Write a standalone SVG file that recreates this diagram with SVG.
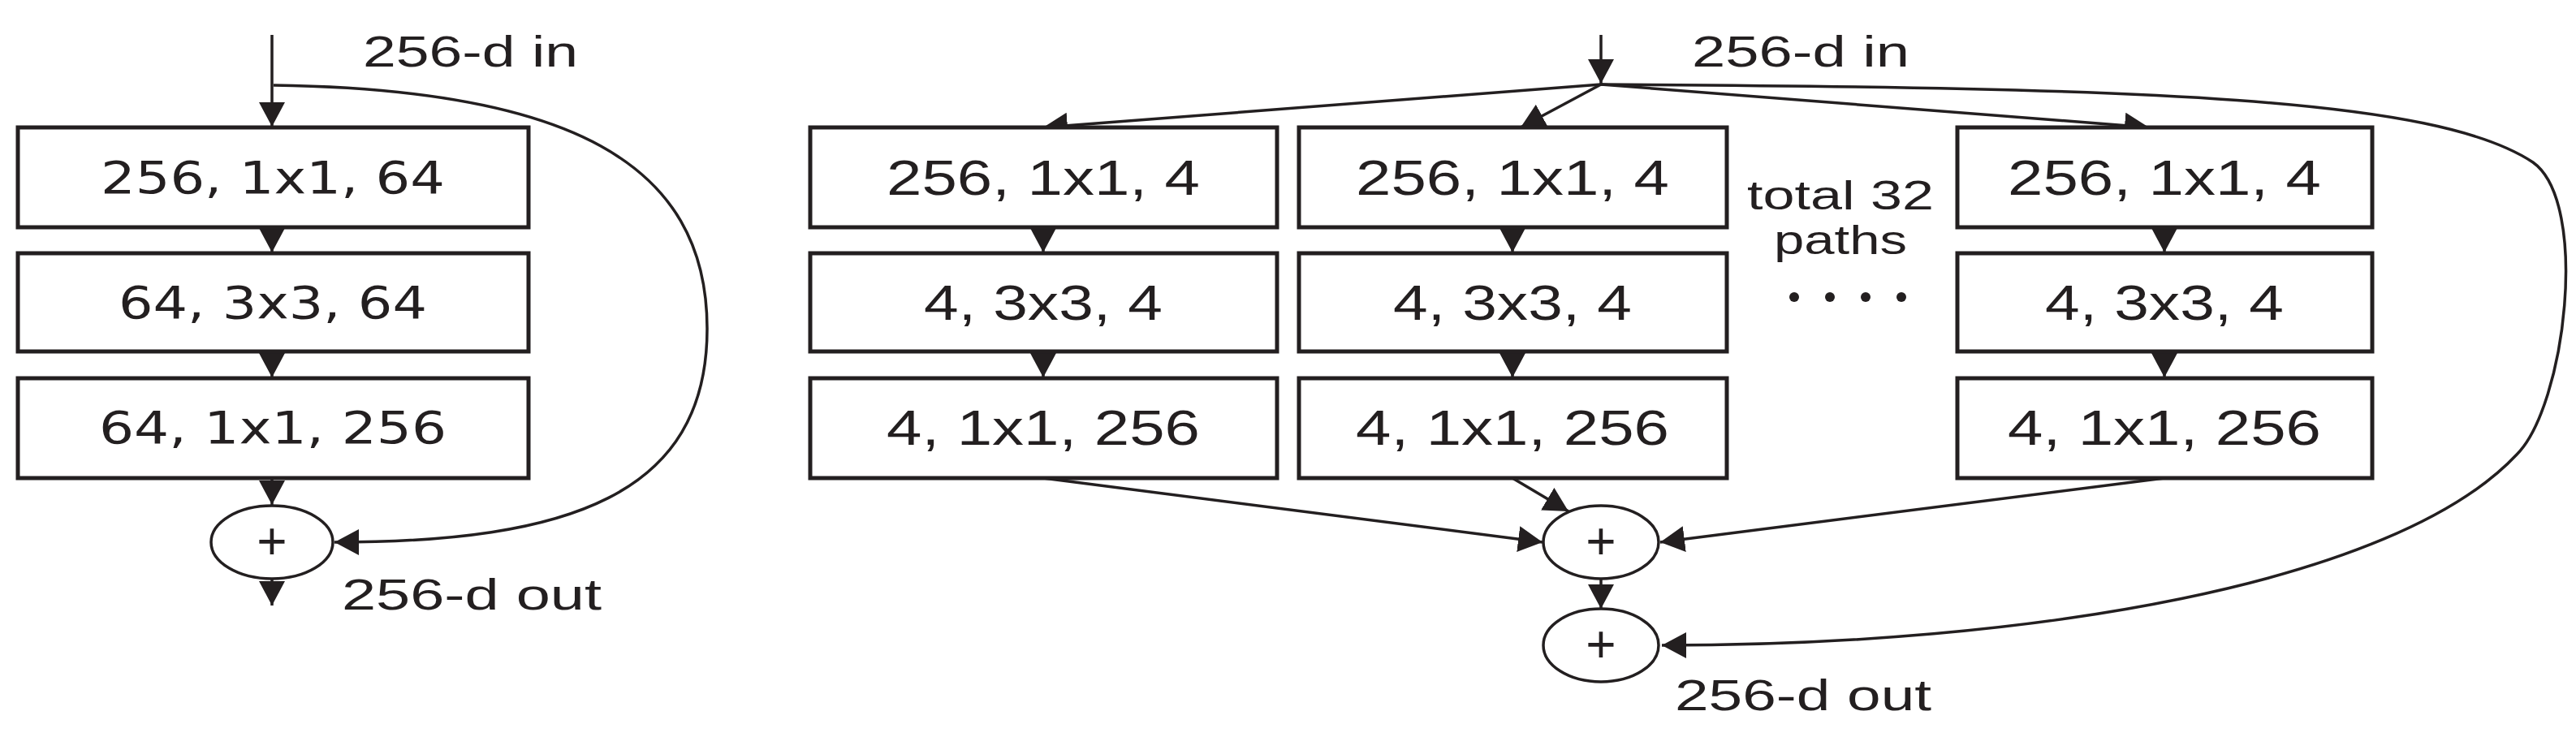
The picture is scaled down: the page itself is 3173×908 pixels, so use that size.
<svg xmlns="http://www.w3.org/2000/svg" width="3173" height="908" viewBox="0 0 3173 908">
<style>
.b{fill:#fff;stroke:#231f20;stroke-width:5}
.c{fill:none;stroke:#231f20;stroke-width:3.5}
.tl{font-family:"DejaVu Sans",sans-serif;font-size:56px;fill:#231f20;text-anchor:middle}
.tr{font-family:"Liberation Sans",sans-serif;font-size:62px;fill:#231f20;text-anchor:middle}
.p{font-family:"Liberation Sans",sans-serif;font-size:64px;fill:#231f20;text-anchor:middle}
.lab{font-family:"Liberation Sans",sans-serif;font-size:54px;fill:#231f20}
</style>
<defs>
<marker id="A" viewBox="0 0 10 10" refX="10" refY="5" markerWidth="30" markerHeight="32" markerUnits="userSpaceOnUse" orient="auto" preserveAspectRatio="none">
<path d="M0,0 L10,5 L0,10 z" fill="#231f20"/>
</marker>
</defs>
<g id="edges">
<line class="c" x1="335" y1="43" x2="335" y2="156" marker-end="url(#A)"/>
<line class="c" x1="335" y1="280" x2="335" y2="311" marker-end="url(#A)"/>
<line class="c" x1="335" y1="433" x2="335" y2="465" marker-end="url(#A)"/>
<line class="c" x1="335" y1="589" x2="335" y2="622" marker-end="url(#A)"/>
<line class="c" x1="335" y1="713" x2="335" y2="746" marker-end="url(#A)"/>
<path class="c" d="M337,105 C700,110 871,200 871,405 C871,610 700,668 412,668" marker-end="url(#A)"/>
<line class="c" x1="1972" y1="43" x2="1972" y2="103" marker-end="url(#A)"/>
<line class="c" x1="1972" y1="104" x2="1285" y2="157" marker-end="url(#A)"/>
<line class="c" x1="1972" y1="104" x2="1873" y2="157" marker-end="url(#A)"/>
<line class="c" x1="1972" y1="104" x2="2647" y2="157" marker-end="url(#A)"/>
<path class="c" d="M1972,104 C2650,108 3000,120 3120,200 C3190,250 3160,500 3100,560 C2950,720 2500,795 2047,795" marker-end="url(#A)"/>
<line class="c" x1="1285" y1="280" x2="1285" y2="311" marker-end="url(#A)"/>
<line class="c" x1="1285" y1="433" x2="1285" y2="465" marker-end="url(#A)"/>
<line class="c" x1="1863" y1="280" x2="1863" y2="311" marker-end="url(#A)"/>
<line class="c" x1="1863" y1="433" x2="1863" y2="465" marker-end="url(#A)"/>
<line class="c" x1="2666" y1="280" x2="2666" y2="311" marker-end="url(#A)"/>
<line class="c" x1="2666" y1="433" x2="2666" y2="465" marker-end="url(#A)"/>
<line class="c" x1="1285" y1="589" x2="1900" y2="668" marker-end="url(#A)"/>
<line class="c" x1="1863" y1="589" x2="1932" y2="630" marker-end="url(#A)"/>
<line class="c" x1="2666" y1="589" x2="2045" y2="668" marker-end="url(#A)"/>
<line class="c" x1="1972" y1="713" x2="1972" y2="750" marker-end="url(#A)"/>
</g>
<g id="l1"><rect class="b" x="22" y="157" width="629" height="123"/><text class="tl" x="336" y="238" textLength="424" lengthAdjust="spacingAndGlyphs">256, 1x1, 64</text></g>
<g id="l2"><rect class="b" x="22" y="312" width="629" height="121"/><text class="tl" x="336" y="392" textLength="380" lengthAdjust="spacingAndGlyphs">64, 3x3, 64</text></g>
<g id="l3"><rect class="b" x="22" y="466" width="629" height="123"/><text class="tl" x="336" y="546" textLength="428" lengthAdjust="spacingAndGlyphs">64, 1x1, 256</text></g>
<g id="lsum"><ellipse cx="335" cy="668" rx="75" ry="45" fill="#fff" stroke="#231f20" stroke-width="3.5"/><text class="p" x="335" y="689">+</text></g>
<g id="a1"><rect class="b" x="998" y="157" width="575" height="123"/><text class="tr" x="1285" y="240" textLength="386" lengthAdjust="spacingAndGlyphs">256, 1x1, 4</text></g>
<g id="a2"><rect class="b" x="998" y="312" width="575" height="121"/><text class="tr" x="1285" y="394" textLength="294" lengthAdjust="spacingAndGlyphs">4, 3x3, 4</text></g>
<g id="a3"><rect class="b" x="998" y="466" width="575" height="123"/><text class="tr" x="1285" y="548" textLength="386" lengthAdjust="spacingAndGlyphs">4, 1x1, 256</text></g>
<g id="b1"><rect class="b" x="1600" y="157" width="527" height="123"/><text class="tr" x="1863" y="240" textLength="386" lengthAdjust="spacingAndGlyphs">256, 1x1, 4</text></g>
<g id="b2"><rect class="b" x="1600" y="312" width="527" height="121"/><text class="tr" x="1863" y="394" textLength="294" lengthAdjust="spacingAndGlyphs">4, 3x3, 4</text></g>
<g id="b3"><rect class="b" x="1600" y="466" width="527" height="123"/><text class="tr" x="1863" y="548" textLength="386" lengthAdjust="spacingAndGlyphs">4, 1x1, 256</text></g>
<g id="c1"><rect class="b" x="2411" y="157" width="511" height="123"/><text class="tr" x="2666" y="240" textLength="386" lengthAdjust="spacingAndGlyphs">256, 1x1, 4</text></g>
<g id="c2"><rect class="b" x="2411" y="312" width="511" height="121"/><text class="tr" x="2666" y="394" textLength="294" lengthAdjust="spacingAndGlyphs">4, 3x3, 4</text></g>
<g id="c3"><rect class="b" x="2411" y="466" width="511" height="123"/><text class="tr" x="2666" y="548" textLength="386" lengthAdjust="spacingAndGlyphs">4, 1x1, 256</text></g>
<g id="sum1"><ellipse cx="1972" cy="668" rx="71" ry="45" fill="#fff" stroke="#231f20" stroke-width="3.5"/><text class="p" x="1972" y="689">+</text></g>
<g id="sum2"><ellipse cx="1972" cy="795" rx="71" ry="45" fill="#fff" stroke="#231f20" stroke-width="3.5"/><text class="p" x="1972" y="816">+</text></g>
<g id="labels">
<text class="lab" x="447" y="82" textLength="265" lengthAdjust="spacingAndGlyphs">256-d in</text>
<text class="lab" x="421" y="751" textLength="320" lengthAdjust="spacingAndGlyphs">256-d out</text>
<text class="lab" x="2084" y="82" textLength="268" lengthAdjust="spacingAndGlyphs">256-d in</text>
<text class="lab" x="2063" y="875" textLength="316" lengthAdjust="spacingAndGlyphs">256-d out</text>
<text class="tr" x="2267" y="258" style="font-size:50px" textLength="230" lengthAdjust="spacingAndGlyphs">total 32</text>
<text class="tr" x="2267" y="313" style="font-size:50px" textLength="164" lengthAdjust="spacingAndGlyphs">paths</text>
<g fill="#231f20"><circle cx="2210" cy="366" r="6"/><circle cx="2254" cy="366" r="6"/><circle cx="2298" cy="366" r="6"/><circle cx="2342" cy="366" r="6"/></g>
</g>
</svg>
